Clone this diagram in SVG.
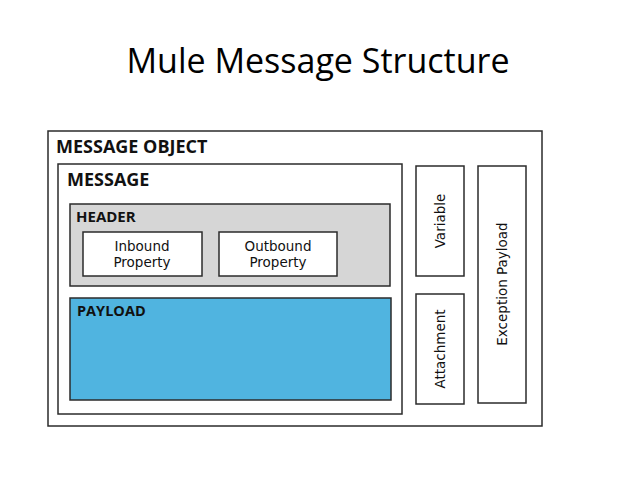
<svg xmlns="http://www.w3.org/2000/svg" width="638" height="478" viewBox="0 0 638 478">
<style>
.box{fill:#fff;stroke:#2b2b2b;stroke-width:1.5}
.hd{font-family:"Open Sans","DejaVu Sans",sans-serif;font-weight:bold;fill:#111}
.lb{font-family:"DejaVu Sans","Open Sans",sans-serif;font-size:13.5px;fill:#111;text-anchor:middle}
</style>
<rect width="638" height="478" fill="#fff"/>
<text x="318" y="73" font-family="Open Sans, Liberation Sans, sans-serif" font-size="34" text-anchor="middle" fill="#000">Mule Message Structure</text>
<g id="message-object">
<rect class="box" x="48" y="131" width="494" height="295"/>
<text class="hd" x="56" y="153" font-size="18">MESSAGE OBJECT</text>
</g>
<g id="message">
<rect class="box" x="58" y="164" width="344" height="250"/>
<text class="hd" x="67" y="186" font-size="18">MESSAGE</text>
</g>
<g id="header">
<rect class="box" x="70" y="204" width="320" height="82" style="fill:#d6d6d6"/>
<text class="hd" x="76" y="222" font-size="15">HEADER</text>
</g>
<g id="inbound">
<rect class="box" x="83" y="232" width="119" height="44"/>
<text class="lb" x="142" y="251">Inbound</text>
<text class="lb" x="142" y="267">Property</text>
</g>
<g id="outbound">
<rect class="box" x="219" y="232" width="118" height="44"/>
<text class="lb" x="278" y="251">Outbound</text>
<text class="lb" x="278" y="267">Property</text>
</g>
<g id="payload">
<rect class="box" x="70" y="298" width="321" height="102" style="fill:#50b4e0"/>
<text class="hd" x="77" y="316" font-size="14.5">PAYLOAD</text>
</g>
<g id="variable">
<rect class="box" x="416" y="166" width="48" height="110"/>
<text class="lb" transform="translate(445,221) rotate(-90)">Variable</text>
</g>
<g id="attachment">
<rect class="box" x="416" y="294" width="48" height="110"/>
<text class="lb" transform="translate(445,349) rotate(-90)">Attachment</text>
</g>
<g id="exception-payload">
<rect class="box" x="478" y="166" width="48" height="237"/>
<text class="lb" transform="translate(507,284) rotate(-90)">Exception Payload</text>
</g>
<g id="connectors"/>
</svg>
